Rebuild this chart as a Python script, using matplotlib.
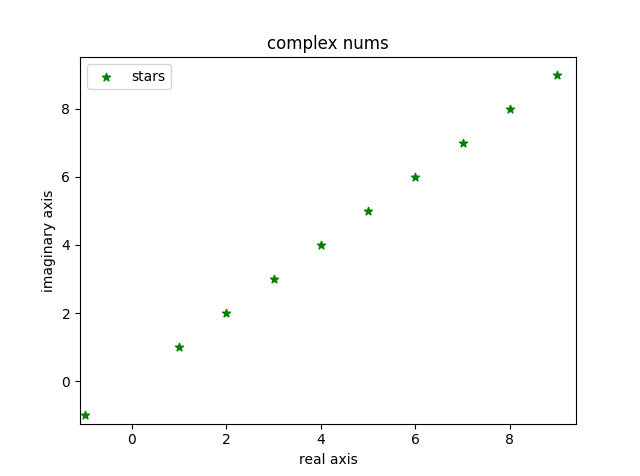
import matplotlib
matplotlib.use("Agg")
import matplotlib.pyplot as plt

# complex numbers shown on the plot
nums = [-1 - 1j, 1 + 1j, 2 + 2j, 3 + 3j, 4 + 4j, 5 + 5j, 6 + 6j, 7 + 7j, 8 + 8j, 9 + 9j]
real_part = [z.real for z in nums]
imag_part = [z.imag for z in nums]

plt.figure(figsize=(6.4, 4.76), dpi=100)
plt.scatter(real_part, imag_part, color='green', marker='*', label='stars')
plt.xlim(-1.1, 9.4)
plt.ylim(-1.25, 9.52)
plt.title("complex nums")
plt.xlabel("real axis")
plt.ylabel("imaginary axis")
plt.legend(loc='upper left')
plt.savefig("out.png")
